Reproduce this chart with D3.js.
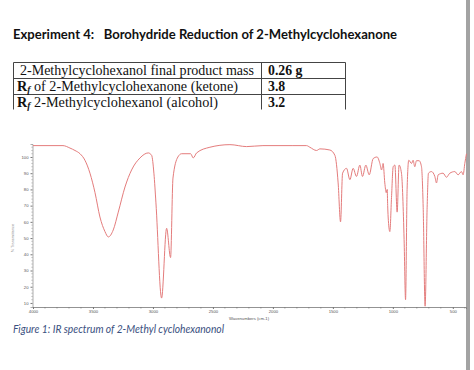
<!DOCTYPE html>
<html>
<head>
<meta charset="utf-8">
<script src="https://cdn.jsdelivr.net/npm/d3@7"></script>
<style>
  body { margin:0; background:#fff; }
</style>
</head>
<body>
<div class="svg-container"></div>
<script>
// table contents
const tableLabels = ['2-Methylcyclohexanol final product mass', 'of 2-Methylcyclohexanone (ketone)', '2-Methylcyclohexanol (alcohol)'];
const tableRf = [false, true, true];
const tableValues = ['0.26 g', '3.8', '3.2'];

// IR spectrum (wavenumber cm-1, % transmittance)
const wavenumbers = [4000, 3750, 3692, 3650, 3608, 3567, 3525, 3483, 3442, 3400, 3372, 3331, 3289, 3233, 3178, 3108, 3039, 3011, 2992, 2975, 2928, 2886, 2853, 2833, 2792, 2761, 2686, 2664, 2636, 2525, 2358, 2219, 2083, 1833, 1719, 1692, 1636, 1608, 1525, 1483, 1456, 1436, 1419, 1386, 1358, 1331, 1303, 1275, 1253, 1225, 1197, 1164, 1131, 1108, 1094, 1081, 1067, 1055, 1047, 1043, 1039, 1025, 1011, 997, 983, 964, 948, 928, 906, 894, 881, 867, 844, 831, 817, 803, 781, 761, 747, 731, 714, 703, 678, 650, 636, 622, 581, 553, 525, 483, 456, 428, 414, 400, 386];
const transmittance = [107, 107, 105.5, 104, 102, 98, 90, 78, 63, 54, 50.7, 55, 66, 81.5, 92, 99.4, 102.5, 101, 90, 71.7, 13, 56, 38, 87, 100, 102, 102, 99.4, 102.5, 106, 107.6, 106.4, 107, 107, 107, 106, 104, 105, 104.3, 101, 84, 60, 90, 93, 86, 93, 88, 95, 88, 95, 89, 99, 100, 96, 92, 96, 84, 78, 80, 70, 63, 54, 75, 94, 95, 66, 95, 90, 49, 12, 80, 98, 96, 98, 94, 97.7, 97.7, 94, 69, 8, 69, 90, 91, 88, 84, 89, 90, 87.5, 90, 91, 89, 91, 89, 96, 102];

// axis ticks
const xTicks = [4000, 3500, 3000, 2500, 2000, 1500, 1000, 500];
const yTicks = [10, 20, 30, 40, 50, 60, 70, 80, 90, 100];

const width = 474, height = 370;

const svg = d3.select('.svg-container')
    .append('svg')
    .attr('width', width)
    .attr('height', height);

svg.append('rect').attr('width', width).attr('height', height).attr('fill', '#fff');

// page edge on the right
svg.append('rect')
    .attr('x', 466).attr('y', 0)
    .attr('width', 4).attr('height', height)
    .attr('fill', '#a3a3a3');

// heading
svg.append('text')
    .attr('x', 13).attr('y', 39)
    .attr('font-family', 'Lato, sans-serif')
    .attr('font-weight', 'bold')
    .attr('font-size', 12.5)
    .attr('fill', '#111')
    .attr('textLength', 384)
    .attr('lengthAdjust', 'spacingAndGlyphs')
    .attr('xml:space', 'preserve')
    .text('Experiment 4:   Borohydride Reduction of 2-Methylcyclohexanone');

// table
const tbl = { left:13.5, mid:261.5, right:345.5, top:62.5, row:16 };
const labelWidths = [234, 221, 201];
const tg = svg.append('g').attr('class', 'table');

tg.selectAll('.hline')
    .data([0, 1, 2])
    .join('line')
    .attr('class', 'hline')
    .attr('x1', tbl.left).attr('x2', tbl.right)
    .attr('y1', (d, i) => tbl.top + i * tbl.row)
    .attr('y2', (d, i) => tbl.top + i * tbl.row)
    .attr('stroke', '#444');

tg.selectAll('.vline')
    .data([tbl.left, tbl.mid, tbl.right])
    .join('line')
    .attr('class', 'vline')
    .attr('x1', d => d).attr('x2', d => d)
    .attr('y1', tbl.top).attr('y2', tbl.top + 3 * tbl.row - 1)
    .attr('stroke', '#444');

const labelText = tg.selectAll('.row-label')
    .data(tableLabels)
    .join('text')
    .attr('class', 'row-label')
    .attr('x', (d, i) => tableRf[i] ? 17 : 20)
    .attr('y', (d, i) => tbl.top + i * tbl.row + 12.5)
    .attr('font-family', '"Liberation Serif", "Times New Roman", serif')
    .attr('font-size', 14.2)
    .attr('fill', '#111')
    .attr('textLength', (d, i) => labelWidths[i])
    .attr('lengthAdjust', 'spacingAndGlyphs');

labelText.each(function(d, i) {
    const t = d3.select(this);
    if (tableRf[i]) {
        t.append('tspan').attr('font-weight', 'bold').text('R');
        t.append('tspan').attr('font-weight', 'bold').attr('font-style', 'italic')
            .attr('font-size', 9.5).attr('dy', 2).text('f');
        t.append('tspan').attr('dy', -2).text(' ' + d);
    } else {
        t.text(d);
    }
});

tg.selectAll('.row-value')
    .data(tableValues)
    .join('text')
    .attr('class', 'row-value')
    .attr('x', 268)
    .attr('y', (d, i) => tbl.top + i * tbl.row + 12.5)
    .attr('font-family', '"Liberation Serif", "Times New Roman", serif')
    .attr('font-weight', 'bold')
    .attr('font-size', 13.8)
    .attr('fill', '#111')
    .text(d => d);

// spectrum scales
const xScale = d3.scaleLinear().domain([4000, 390]).range([33, 466]);
const yScale = d3.scaleLinear().domain([7.5, 108]).range([307, 144]);

const axisColor = '#777';

// x axis
const xAxis = d3.axisBottom(xScale)
    .tickValues(xTicks)
    .tickSize(2)
    .tickPadding(1.5)
    .tickFormat(d3.format('d'));

const gx = svg.append('g')
    .attr('class', 'x-axis')
    .attr('transform', 'translate(0, 307)')
    .call(xAxis);
gx.select('.domain').attr('stroke', axisColor).attr('stroke-width', 0.8);
gx.selectAll('.tick line').attr('stroke', axisColor);
gx.selectAll('.tick text').attr('font-size', 4.2).attr('fill', '#555').attr('font-family', 'Arial, sans-serif');

// minor x ticks
svg.selectAll('.x-minor')
    .data(d3.range(3900, 390, -100).filter(v => v % 500 != 0))
    .join('line')
    .attr('class', 'x-minor')
    .attr('x1', d => xScale(d)).attr('x2', d => xScale(d))
    .attr('y1', 307).attr('y2', 308.5)
    .attr('stroke', axisColor).attr('stroke-width', 0.7);

// y axis
const yAxis = d3.axisLeft(yScale)
    .tickValues(yTicks)
    .tickSize(2)
    .tickPadding(2)
    .tickFormat(d3.format('d'));

const gy = svg.append('g')
    .attr('class', 'y-axis')
    .attr('transform', 'translate(32.5, 0)')
    .call(yAxis);
gy.select('.domain').attr('stroke', axisColor).attr('stroke-width', 0.6);
gy.selectAll('.tick line').attr('stroke', axisColor);
gy.selectAll('.tick text').attr('font-size', 4.2).attr('fill', '#555').attr('font-family', 'Arial, sans-serif');

// minor y ticks
svg.selectAll('.y-minor')
    .data(d3.range(10, 108, 2).filter(v => v % 10 != 0))
    .join('line')
    .attr('class', 'y-minor')
    .attr('x1', 31.5).attr('x2', 32.5)
    .attr('y1', d => yScale(d)).attr('y2', d => yScale(d))
    .attr('stroke', axisColor).attr('stroke-width', 0.6);

// axis titles
svg.append('text')
    .attr('transform', `translate(14, ${yScale(50)}) rotate(-90)`)
    .attr('text-anchor', 'middle')
    .attr('font-size', 3.8)
    .attr('font-family', 'Arial, sans-serif')
    .attr('fill', '#888')
    .text('% Transmittance');

svg.append('text')
    .attr('x', 249).attr('y', 319.5)
    .attr('text-anchor', 'middle')
    .attr('font-size', 4.2)
    .attr('font-family', 'Arial, sans-serif')
    .attr('fill', '#555')
    .text('Wavenumbers (cm-1)');

// spectrum line
const points = wavenumbers.map((w, i) => [w, transmittance[i]]);
const line = d3.line()
    .x(d => xScale(d[0]))
    .y(d => yScale(d[1]))
    .curve(d3.curveMonotoneX);

svg.append('path')
    .datum(points.slice().reverse())
    .attr('d', line)
    .attr('fill', 'none')
    .attr('stroke', '#e47c7c')
    .attr('stroke-width', 1)
    .attr('stroke-linejoin', 'round');

// caption
svg.append('text')
    .attr('x', 13).attr('y', 333)
    .attr('font-family', 'Lato, sans-serif')
    .attr('font-style', 'italic')
    .attr('font-size', 10.8)
    .attr('fill', '#3a5080')
    .attr('textLength', 211)
    .attr('lengthAdjust', 'spacingAndGlyphs')
    .text('Figure 1: IR spectrum of 2-Methyl cyclohexanonol');
</script>
</body>
</html>
